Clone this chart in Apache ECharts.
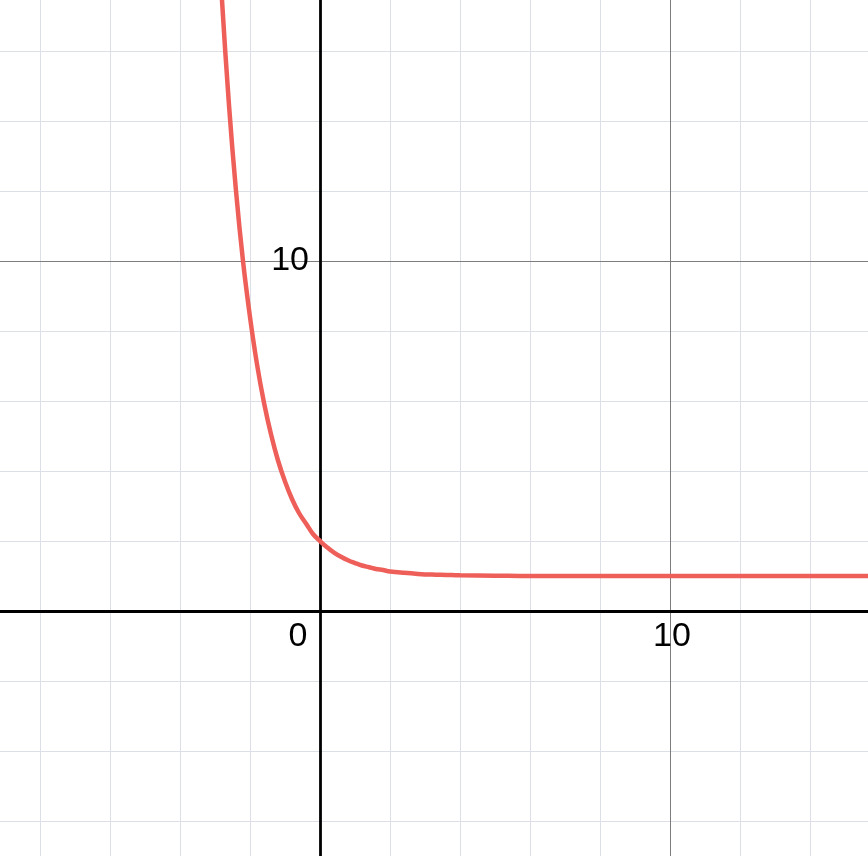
<!DOCTYPE html>
<html>
<head>
<meta charset="utf-8">
<script src="https://cdn.jsdelivr.net/npm/echarts@6/dist/echarts.min.js"></script>
<style>
  html, body { margin: 0; padding: 0; background: #fff; }
  #chart { width: 868px; height: 856px; }
</style>
</head>
<body>
<div id="chart"></div>
<script>
// points
const curveX = [-2.9, -2.8, -2.6, -2.4, -2.2, -2.0, -1.8, -1.6, -1.4, -1.2, -1.0, -0.8, -0.6, -0.4, -0.2,
                0, 0.2, 0.4, 0.6, 0.8, 1.0, 1.2, 1.4, 1.6, 1.8, 2.0, 2.4, 2.8, 3.2, 3.6, 4.0, 5.0, 6.0,
                8.0, 10.0, 12.0, 14.0, 16.0];
const curveY = [19.2, 17.45, 14.45, 12.0, 10.0, 8.4, 7.05, 5.95, 5.05, 4.3, 3.7, 3.2, 2.8, 2.5, 2.2,
                2.0, 1.82, 1.67, 1.55, 1.45, 1.37, 1.3, 1.25, 1.2, 1.17, 1.13, 1.09, 1.06, 1.04, 1.03, 1.02, 1.01, 1.0,
                1.0, 1.0, 1.0, 1.0, 1.0];
const xTickLabels = [0, 10];
const yTickLabels = [10];

const chart = echarts.init(document.getElementById('chart'));

const minor = { show: true, lineStyle: { color: '#dcdfe6', width: 1 } };
const major = { show: true, lineStyle: { color: '#7d7d7d', width: 1 } };
const labelFont = { fontFamily: 'Liberation Sans', fontSize: 34, color: '#000' };

const option = {
  backgroundColor: '#fff',
  animation: false,
  // 35 px per unit, origin at (320, 611)
  grid: {
    left: -30, right: -12, top: -19, bottom: -105,
    containLabel: false, outerBoundsMode: 'none'
  },
  xAxis: [
    {
      type: 'value', min: -10, max: 16, interval: 2, z: 0,
      axisLine: { show: false, onZero: false }, axisTick: { show: false }, axisLabel: { show: false },
      splitLine: minor
    },
    {
      // moved up from the grid bottom onto y = 0
      type: 'value', min: -10, max: 16, interval: 10, z: 1, position: 'bottom', offset: -350,
      axisLine: { show: false, onZero: false }, axisTick: { show: false },
      splitLine: major,
      axisLabel: Object.assign({
        margin: 9,
        formatter: v => v === 0 ? '{z|0}' : (xTickLabels.includes(v) ? '{t|' + v + '}' : ''),
        rich: {
          z: Object.assign({ padding: [0, 44, 0, 0] }, labelFont),
          t: Object.assign({ padding: [0, 0, 0, 4] }, labelFont)
        }
      }, labelFont)
    }
  ],
  yAxis: [
    {
      type: 'value', min: -10, max: 18, interval: 2, z: 0,
      axisLine: { show: false, onZero: false }, axisTick: { show: false }, axisLabel: { show: false },
      splitLine: minor
    },
    {
      // moved right from the grid left edge onto x = 0
      type: 'value', min: -10, max: 18, interval: 10, z: 1, position: 'left', offset: -350,
      axisLine: { show: false, onZero: false }, axisTick: { show: false },
      splitLine: major,
      axisLabel: Object.assign({
        margin: 11,
        formatter: v => yTickLabels.includes(v) ? String(v) : ''
      }, labelFont)
    }
  ],
  series: [
    {
      type: 'line',
      xAxisIndex: 0,
      yAxisIndex: 0,
      data: curveX.map((x, i) => [x, curveY[i]]),
      smooth: 0.4,
      showSymbol: false,
      symbol: 'none',
      z: 3,
      lineStyle: { color: '#ef5f5a', width: 4.5 },
      markLine: {
        z: 2,
        silent: true,
        symbol: 'none',
        label: { show: false },
        lineStyle: { color: '#000', width: 2.8, type: 'solid' },
        data: [{ xAxis: 0 }, { yAxis: 0 }]
      }
    }
  ]
};

chart.setOption(option);
</script>
</body>
</html>
